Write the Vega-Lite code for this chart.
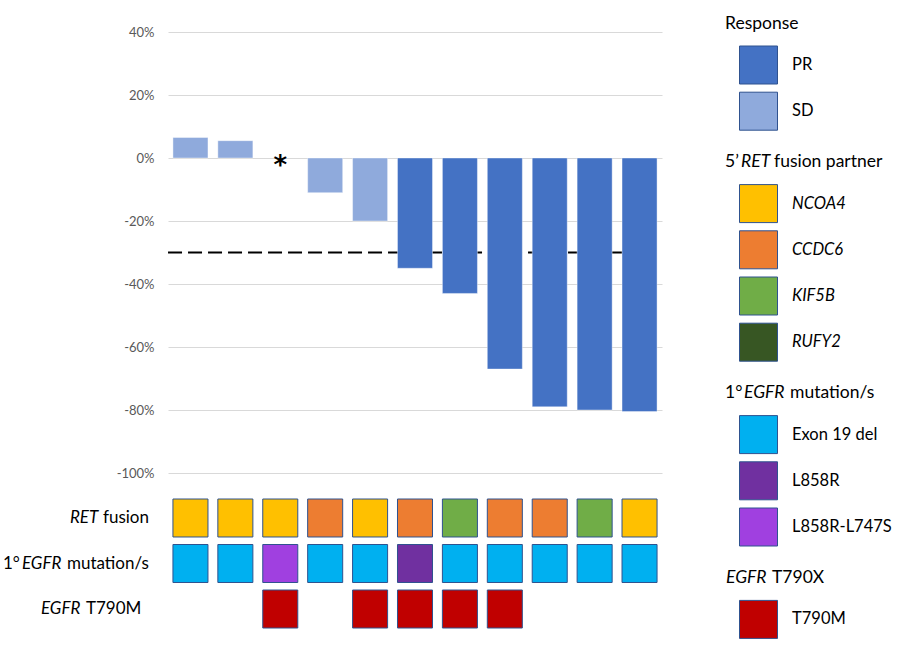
{
  "$schema": "https://vega.github.io/schema/vega-lite/v6.json",
  "width": 494,
  "height": 441,
  "autosize": {"type": "none"},
  "padding": {"left": 168, "top": 32, "right": 243, "bottom": 188},
  "background": "white",
  "config": {"view": {"stroke": null}, "font": "Lato", "text": {"font": "Lato", "color": "#000000"}},
  "datasets": {
    "bars": [
      {"patient": "P1", "change": 6.5, "response": "SD"},
      {"patient": "P2", "change": 5.5, "response": "SD"},
      {"patient": "P3", "change": null, "response": null, "note": "*"},
      {"patient": "P4", "change": -11, "response": "SD"},
      {"patient": "P5", "change": -20, "response": "SD"},
      {"patient": "P6", "change": -35, "response": "PR"},
      {"patient": "P7", "change": -43, "response": "PR"},
      {"patient": "P8", "change": -67, "response": "PR"},
      {"patient": "P9", "change": -79, "response": "PR"},
      {"patient": "P10", "change": -80, "response": "PR"},
      {"patient": "P11", "change": -80.5, "response": "PR"}
    ],
    "heat": [
      {"patient": "P1", "row": "RET fusion", "cat": "NCOA4"},
      {"patient": "P2", "row": "RET fusion", "cat": "NCOA4"},
      {"patient": "P3", "row": "RET fusion", "cat": "NCOA4"},
      {"patient": "P4", "row": "RET fusion", "cat": "CCDC6"},
      {"patient": "P5", "row": "RET fusion", "cat": "NCOA4"},
      {"patient": "P6", "row": "RET fusion", "cat": "CCDC6"},
      {"patient": "P7", "row": "RET fusion", "cat": "KIF5B"},
      {"patient": "P8", "row": "RET fusion", "cat": "CCDC6"},
      {"patient": "P9", "row": "RET fusion", "cat": "CCDC6"},
      {"patient": "P10", "row": "RET fusion", "cat": "KIF5B"},
      {"patient": "P11", "row": "RET fusion", "cat": "NCOA4"},
      {"patient": "P1", "row": "1° EGFR mutation/s", "cat": "Exon 19 del"},
      {"patient": "P2", "row": "1° EGFR mutation/s", "cat": "Exon 19 del"},
      {"patient": "P3", "row": "1° EGFR mutation/s", "cat": "L858R-L747S"},
      {"patient": "P4", "row": "1° EGFR mutation/s", "cat": "Exon 19 del"},
      {"patient": "P5", "row": "1° EGFR mutation/s", "cat": "Exon 19 del"},
      {"patient": "P6", "row": "1° EGFR mutation/s", "cat": "L858R"},
      {"patient": "P7", "row": "1° EGFR mutation/s", "cat": "Exon 19 del"},
      {"patient": "P8", "row": "1° EGFR mutation/s", "cat": "Exon 19 del"},
      {"patient": "P9", "row": "1° EGFR mutation/s", "cat": "Exon 19 del"},
      {"patient": "P10", "row": "1° EGFR mutation/s", "cat": "Exon 19 del"},
      {"patient": "P11", "row": "1° EGFR mutation/s", "cat": "Exon 19 del"},
      {"patient": "P3", "row": "EGFR T790M", "cat": "T790M"},
      {"patient": "P5", "row": "EGFR T790M", "cat": "T790M"},
      {"patient": "P6", "row": "EGFR T790M", "cat": "T790M"},
      {"patient": "P7", "row": "EGFR T790M", "cat": "T790M"},
      {"patient": "P8", "row": "EGFR T790M", "cat": "T790M"}
    ],
    "rowlabels": [
      {"row": "RET fusion", "piece": "RET"},
      {"row": "RET fusion", "piece": "fusion"},
      {"row": "1° EGFR mutation/s", "piece": "1°"},
      {"row": "1° EGFR mutation/s", "piece": "EGFR"},
      {"row": "1° EGFR mutation/s", "piece": "mutation/s"},
      {"row": "EGFR T790M", "piece": "EGFR"},
      {"row": "EGFR T790M", "piece": "T790M"}
    ],
    "legend": [
      {"group": "Response", "item": "PR"},
      {"group": "Response", "item": "SD"},
      {"group": "fusion", "item": "NCOA4"},
      {"group": "fusion", "item": "CCDC6"},
      {"group": "fusion", "item": "KIF5B"},
      {"group": "fusion", "item": "RUFY2"},
      {"group": "egfr", "item": "Exon 19 del"},
      {"group": "egfr", "item": "L858R"},
      {"group": "egfr", "item": "L858R-L747S"},
      {"group": "t790", "item": "T790M"}
    ],
    "legendTitles": [
      {"title": "Response", "piece": "Response"},
      {"title": "5’ RET fusion partner", "piece": "5’"},
      {"title": "5’ RET fusion partner", "piece": "RET"},
      {"title": "5’ RET fusion partner", "piece": "fusion partner"},
      {"title": "1° EGFR mutation/s", "piece": "1°"},
      {"title": "1° EGFR mutation/s", "piece": "EGFR"},
      {"title": "1° EGFR mutation/s", "piece": "mutation/s"},
      {"title": "EGFR T790X", "piece": "EGFR"},
      {"title": "EGFR T790X", "piece": "T790X"}
    ]
  },
  "layer": [
    {
      "data": {"name": "bars"},
      "encoding": {
        "x": {"field": "patient", "type": "nominal", "sort": null,
              "scale": {"domain": ["P1","P2","P3","P4","P5","P6","P7","P8","P9","P10","P11"], "paddingInner": 0.22, "paddingOuter": 0.11},
              "axis": null}
      },
      "layer": [
        {
          "data": {"values": [{"threshold": -30}]},
          "mark": {"type": "rule", "strokeDash": [14, 6], "strokeWidth": 2, "color": "#000000"},
          "encoding": {
            "x": {"datum": "P11", "bandPosition": 0},
            "x2": {"value": 0},
            "y": {"field": "threshold", "type": "quantitative", "title": null}
          }
        },
        {
          "mark": {"type": "bar", "stroke": "#FFFFFF", "strokeOpacity": 0.4, "strokeWidth": 1},
          "encoding": {
            "y": {"field": "change", "type": "quantitative", "title": null,
                  "scale": {"domain": [-100, 40], "nice": false, "zero": false},
                  "axis": {"values": [-100, -80, -60, -40, -20, 0, 20, 40], "labelExpr": "datum.value + '%'",
                           "title": null, "domain": false, "ticks": false, "labelPadding": 14,
                           "labelFontSize": 13, "labelColor": "#595959", "labelFont": "Lato",
                           "grid": true, "gridColor": "#D9D9D9", "gridWidth": 1}},
            "color": {"field": "response", "type": "nominal", "legend": null,
                      "scale": {"domain": ["PR","SD","NCOA4","CCDC6","KIF5B","RUFY2","Exon 19 del","L858R","L858R-L747S","T790M"],
                                "range": ["#4472C4","#8FAADC","#FFC000","#ED7D31","#70AD47","#375623","#00B0F0","#7030A0","#A040E0","#C00000"]}}
          }
        },
        {
          "transform": [{"filter": "datum.note != null"}],
          "mark": {"type": "text", "fontSize": 26, "fontWeight": "bold", "baseline": "alphabetic", "dy": 16, "font": "DejaVu Sans"},
          "encoding": {
            "y": {"datum": 0, "type": "quantitative"},
            "text": {"field": "note"}
          }
        }
      ]
    },
    {
      "data": {"name": "heat"},
      "encoding": {
        "x": {"field": "patient", "type": "nominal", "sort": null,
              "scale": {"domain": ["P1","P2","P3","P4","P5","P6","P7","P8","P9","P10","P11"], "paddingInner": 0.22, "paddingOuter": 0.11},
              "axis": null},
        "y": {"field": "row", "type": "nominal", "sort": null,
              "scale": {"domain": ["RET fusion", "1° EGFR mutation/s", "EGFR T790M"], "range": [467, 596], "paddingInner": 0.165, "paddingOuter": 0},
              "axis": null}
      },
      "layer": [
        {
          "mark": {"type": "rect", "stroke": "#2F528F", "strokeWidth": 1},
          "encoding": {
            "color": {"field": "cat", "type": "nominal", "legend": null,
                      "scale": {"domain": ["PR","SD","NCOA4","CCDC6","KIF5B","RUFY2","Exon 19 del","L858R","L858R-L747S","T790M"],
                                "range": ["#4472C4","#8FAADC","#FFC000","#ED7D31","#70AD47","#375623","#00B0F0","#7030A0","#A040E0","#C00000"]}}
          }
        },
        {
          "data": {"name": "rowlabels"},
          "transform": [{"filter": "datum.row == 'RET fusion' && datum.piece == 'RET'"}],
          "mark": {"type": "text", "align": "left", "baseline": "middle", "fontSize": 17, "fontStyle": "italic", "dx": -103},
          "encoding": {"x": {"datum": "P1", "bandPosition": 0}, "text": {"field": "piece"}}
        },
        {
          "data": {"name": "rowlabels"},
          "transform": [{"filter": "datum.row == 'RET fusion' && datum.piece == 'fusion'"}],
          "mark": {"type": "text", "align": "left", "baseline": "middle", "fontSize": 17, "dx": -70},
          "encoding": {"x": {"datum": "P1", "bandPosition": 0}, "text": {"field": "piece"}}
        },
        {
          "data": {"name": "rowlabels"},
          "transform": [{"filter": "datum.row == '1° EGFR mutation/s' && datum.piece == '1°'"}],
          "mark": {"type": "text", "align": "left", "baseline": "middle", "fontSize": 17, "dx": -170},
          "encoding": {"x": {"datum": "P1", "bandPosition": 0}, "text": {"field": "piece"}}
        },
        {
          "data": {"name": "rowlabels"},
          "transform": [{"filter": "datum.row == '1° EGFR mutation/s' && datum.piece == 'EGFR'"}],
          "mark": {"type": "text", "align": "left", "baseline": "middle", "fontSize": 17, "fontStyle": "italic", "dx": -151},
          "encoding": {"x": {"datum": "P1", "bandPosition": 0}, "text": {"field": "piece"}}
        },
        {
          "data": {"name": "rowlabels"},
          "transform": [{"filter": "datum.row == '1° EGFR mutation/s' && datum.piece == 'mutation/s'"}],
          "mark": {"type": "text", "align": "left", "baseline": "middle", "fontSize": 17, "dx": -106},
          "encoding": {"x": {"datum": "P1", "bandPosition": 0}, "text": {"field": "piece"}}
        },
        {
          "data": {"name": "rowlabels"},
          "transform": [{"filter": "datum.row == 'EGFR T790M' && datum.piece == 'EGFR'"}],
          "mark": {"type": "text", "align": "left", "baseline": "middle", "fontSize": 17, "fontStyle": "italic", "dx": -132},
          "encoding": {"x": {"datum": "P1", "bandPosition": 0}, "text": {"field": "piece"}}
        },
        {
          "data": {"name": "rowlabels"},
          "transform": [{"filter": "datum.row == 'EGFR T790M' && datum.piece == 'T790M'"}],
          "mark": {"type": "text", "align": "left", "baseline": "middle", "fontSize": 17, "dx": -87},
          "encoding": {"x": {"datum": "P1", "bandPosition": 0}, "text": {"field": "piece"}}
        }
      ]
    },
    {
      "encoding": {
        "x": {"datum": "swatch", "type": "nominal",
              "scale": {"type": "point", "domain": ["title", "swatch", "label"], "range": [557, 624], "padding": 0},
              "axis": null}
      },
      "layer": [
        {
          "data": {"name": "legend"},
          "mark": {"type": "square", "size": 1444, "filled": true, "opacity": 1, "stroke": "#2F528F", "strokeWidth": 1},
          "encoding": {
            "y": {"field": "item", "type": "nominal", "axis": null,
                  "scale": {"type": "point", "padding": 0, "range": [-13.2, 587.4],
                            "domain": ["Response","PR","SD","5’ RET fusion partner","NCOA4","CCDC6","KIF5B","RUFY2","1° EGFR mutation/s","Exon 19 del","L858R","L858R-L747S","EGFR T790X","T790M"]}},
            "color": {"field": "item", "type": "nominal", "legend": null,
                      "scale": {"domain": ["PR","SD","NCOA4","CCDC6","KIF5B","RUFY2","Exon 19 del","L858R","L858R-L747S","T790M"],
                                "range": ["#4472C4","#8FAADC","#FFC000","#ED7D31","#70AD47","#375623","#00B0F0","#7030A0","#A040E0","#C00000"]}}
          }
        },
        {
          "data": {"name": "legend"},
          "transform": [{"filter": "datum.group != 'fusion'"}],
          "mark": {"type": "text", "align": "left", "baseline": "middle", "fontSize": 16.5},
          "encoding": {"x": {"datum": "label"}, "y": {"field": "item", "type": "nominal"}, "text": {"field": "item"}}
        },
        {
          "data": {"name": "legend"},
          "transform": [{"filter": "datum.group == 'fusion'"}],
          "mark": {"type": "text", "align": "left", "baseline": "middle", "fontSize": 16.5, "fontStyle": "italic"},
          "encoding": {"x": {"datum": "label"}, "y": {"field": "item", "type": "nominal"}, "text": {"field": "item"}}
        },
        {
          "data": {"name": "legendTitles"},
          "transform": [{"filter": "datum.piece == 'Response' || datum.piece == '5’' || datum.piece == '1°'"}],
          "mark": {"type": "text", "align": "left", "baseline": "middle", "fontSize": 17.5, "dy": 5},
          "encoding": {"x": {"datum": "title"}, "y": {"field": "title", "type": "nominal"}, "text": {"field": "piece"}}
        },
        {
          "data": {"name": "legendTitles"},
          "transform": [{"filter": "datum.title == '5’ RET fusion partner' && datum.piece == 'RET'"}],
          "mark": {"type": "text", "align": "left", "baseline": "middle", "fontSize": 17.5, "fontStyle": "italic", "dy": 5, "dx": 16},
          "encoding": {"x": {"datum": "title"}, "y": {"field": "title", "type": "nominal"}, "text": {"field": "piece"}}
        },
        {
          "data": {"name": "legendTitles"},
          "transform": [{"filter": "datum.title == '5’ RET fusion partner' && datum.piece == 'fusion partner'"}],
          "mark": {"type": "text", "align": "left", "baseline": "middle", "fontSize": 17.5, "dy": 5, "dx": 49},
          "encoding": {"x": {"datum": "title"}, "y": {"field": "title", "type": "nominal"}, "text": {"field": "piece"}}
        },
        {
          "data": {"name": "legendTitles"},
          "transform": [{"filter": "datum.title == '1° EGFR mutation/s' && datum.piece == 'EGFR'"}],
          "mark": {"type": "text", "align": "left", "baseline": "middle", "fontSize": 17.5, "fontStyle": "italic", "dy": 5, "dx": 19},
          "encoding": {"x": {"datum": "title"}, "y": {"field": "title", "type": "nominal"}, "text": {"field": "piece"}}
        },
        {
          "data": {"name": "legendTitles"},
          "transform": [{"filter": "datum.title == '1° EGFR mutation/s' && datum.piece == 'mutation/s'"}],
          "mark": {"type": "text", "align": "left", "baseline": "middle", "fontSize": 17.5, "dy": 5, "dx": 65},
          "encoding": {"x": {"datum": "title"}, "y": {"field": "title", "type": "nominal"}, "text": {"field": "piece"}}
        },
        {
          "data": {"name": "legendTitles"},
          "transform": [{"filter": "datum.title == 'EGFR T790X' && datum.piece == 'EGFR'"}],
          "mark": {"type": "text", "align": "left", "baseline": "middle", "fontSize": 17.5, "fontStyle": "italic", "dy": 5, "dx": 1},
          "encoding": {"x": {"datum": "title"}, "y": {"field": "title", "type": "nominal"}, "text": {"field": "piece"}}
        },
        {
          "data": {"name": "legendTitles"},
          "transform": [{"filter": "datum.title == 'EGFR T790X' && datum.piece == 'T790X'"}],
          "mark": {"type": "text", "align": "left", "baseline": "middle", "fontSize": 17.5, "dy": 5, "dx": 47},
          "encoding": {"x": {"datum": "title"}, "y": {"field": "title", "type": "nominal"}, "text": {"field": "piece"}}
        }
      ]
    }
  ],
  "resolve": {"scale": {"x": "independent", "y": "independent"}}
}
